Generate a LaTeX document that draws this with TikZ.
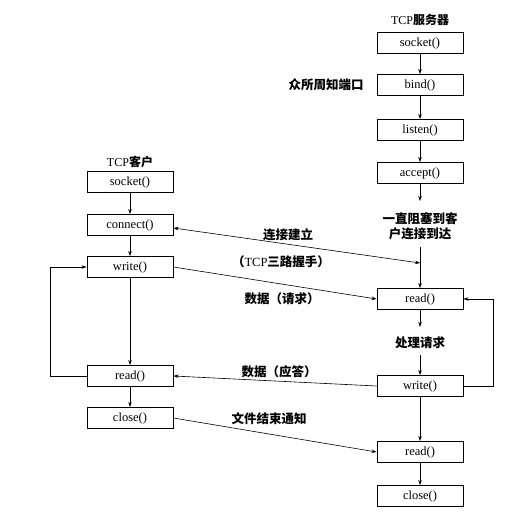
\documentclass[tikz,border=0pt]{standalone}
\usepackage{fontspec}
\setmainfont{Liberation Serif}
\newfontfamily\cjk{Noto Sans CJK SC}
\usetikzlibrary{arrows.meta}
\begin{document}
\begin{tikzpicture}[x=1pt,y=-1pt,
  fn/.style={draw, line width=0.9pt, minimum width=86pt, minimum height=21pt, inner sep=0pt, font=\fontsize{12.5}{13}\selectfont},
  lbl/.style={inner sep=0pt, font=\cjk\bfseries\fontsize{12.5}{15}\selectfont, align=center},
  ttl/.style={inner sep=0pt, font=\fontsize{12}{13}\selectfont},
  arr/.style={-{Stealth[length=5pt,width=3.5pt]}, line width=0.6pt},
  darr/.style={{Stealth[length=5pt,width=3.5pt]}-{Stealth[length=5pt,width=3.5pt]}, line width=0.6pt}]
\useasboundingbox[fill=white] (0,0) rectangle (506,513);
% server column
\node[ttl] (stitle) at (420,20) {TCP{\cjk\bfseries 服务器}};
\node[fn] (ssock) at (420,43) {socket()};
\node[fn] (sbind) at (420,85) {bind()};
\node[fn] (slisten) at (420,130) {listen()};
\node[fn] (saccept) at (420,173) {accept()};
\coordinate (sa1) at (420,201);
\node[lbl] (block) at (420,226) {一直阻塞到客\\户连接到达};
\coordinate (sa2) at (420,247);
\node[fn] (sread) at (420,299) {read()};
\coordinate (sr1) at (420,327);
\node[lbl] (proc) at (420,343) {处理请求};
\coordinate (sr2) at (420,355);
\node[fn] (swrite) at (420,386) {write()};
\node[fn] (sread2) at (420,452) {read()};
\node[fn] (sclose) at (420,496) {close()};
\node[lbl] (port) at (326,85) {众所周知端口};
% client column
\node[ttl] (ctitle) at (130,162) {TCP{\cjk\bfseries 客户}};
\node[fn] (csock) at (130,182) {socket()};
\node[fn] (cconn) at (130,225) {connect()};
\node[fn] (cwrite) at (130,267) {write()};
\node[fn] (cread) at (130,376) {read()};
\node[fn] (cclose) at (130,418) {close()};
% server arrows
\draw[arr] (ssock) -- (sbind);
\draw[arr] (sbind) -- (slisten);
\draw[arr] (slisten) -- (saccept);
\draw[arr] (saccept) -- (sa1);
\draw[arr] (sa2) -- (sread);
\draw[arr] (sread) -- (sr1);
\draw[arr] (sr2) -- (swrite);
\draw[arr] (swrite) -- (sread2);
\draw[arr] (sread2) -- (sclose);
\draw[arr] (swrite.east) -- ++(30,0) |- (sread.east);
% client arrows
\draw[arr] (csock) -- (cconn);
\draw[arr] (cconn) -- (cwrite);
\draw[arr] (cwrite) -- (cread);
\draw[arr] (cread) -- (cclose);
\draw[arr] (cread.west) -- ++(-36,0) |- (cwrite.west);
% cross connectors
\coordinate (hs) at (420,263);
\draw[darr] ([yshift=-3pt]cconn.east) -- (hs);
\node[lbl] (l1) at (288,235) {连接建立};
\node[lbl] (l2) at (281,262) {（{\rmfamily\mdseries TCP}三路握手）};
\draw[arr] (cwrite.east) -- (sread.west);
\node[lbl] (l3) at (282,299) {数据（请求）};
\draw[arr] (swrite.west) -- (cread.east);
\node[lbl] (l4) at (279,372) {数据（应答）};
\draw[arr] (cclose.east) -- (sread2.west);
\node[lbl] (l5) at (269,419) {文件结束通知};
\end{tikzpicture}
\end{document}
